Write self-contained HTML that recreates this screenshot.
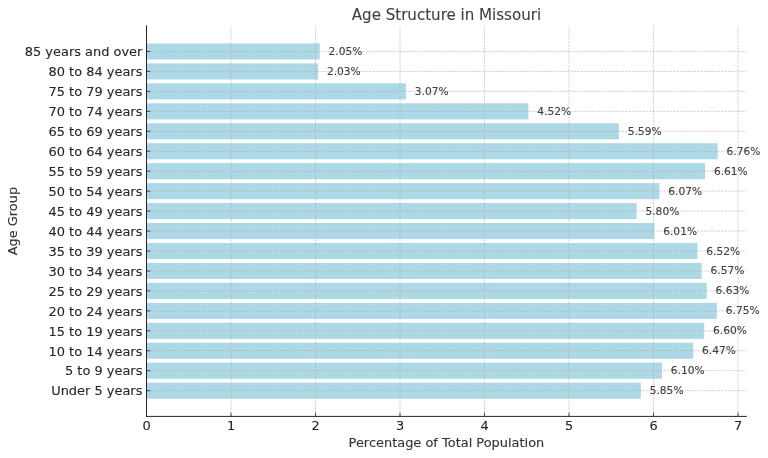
<!DOCTYPE html>
<html lang="en"><head><meta charset="utf-8"><title>Age Structure in Missouri</title>
<style>html,body{margin:0;padding:0;background:#fff}body{width:768px;height:458px;overflow:hidden}svg{display:block}text{stroke-width:0.12px;paint-order:stroke;font-family:"DejaVu Sans","Liberation Sans",sans-serif}</style></head><body>
<svg width="768" height="458" viewBox="0 0 768 458">
<rect width="768" height="458" fill="#fff"/>
<g fill="#add8e6">
<rect x="146.50" y="43.43" width="173.22" height="16.10"/>
<rect x="146.50" y="63.38" width="171.53" height="16.10"/>
<rect x="146.50" y="83.33" width="259.41" height="16.10"/>
<rect x="146.50" y="103.29" width="381.94" height="16.10"/>
<rect x="146.50" y="123.24" width="472.35" height="16.10"/>
<rect x="146.50" y="143.19" width="571.22" height="16.10"/>
<rect x="146.50" y="163.14" width="558.55" height="16.10"/>
<rect x="146.50" y="183.09" width="512.92" height="16.10"/>
<rect x="146.50" y="203.05" width="490.10" height="16.10"/>
<rect x="146.50" y="223.00" width="507.84" height="16.10"/>
<rect x="146.50" y="242.95" width="550.94" height="16.10"/>
<rect x="146.50" y="262.90" width="555.17" height="16.10"/>
<rect x="146.50" y="282.85" width="560.24" height="16.10"/>
<rect x="146.50" y="302.81" width="570.38" height="16.10"/>
<rect x="146.50" y="322.76" width="557.70" height="16.10"/>
<rect x="146.50" y="342.71" width="546.72" height="16.10"/>
<rect x="146.50" y="362.66" width="515.45" height="16.10"/>
<rect x="146.50" y="382.61" width="494.32" height="16.10"/>
</g>
<g stroke="#b0b0b0" stroke-opacity="0.88" stroke-width="0.64" stroke-dasharray="2.39,1.03" fill="none">
<line x1="146.50" y1="416.4" x2="146.50" y2="25.75"/>
<line x1="231.00" y1="416.4" x2="231.00" y2="25.75"/>
<line x1="315.50" y1="416.4" x2="315.50" y2="25.75"/>
<line x1="400.00" y1="416.4" x2="400.00" y2="25.75"/>
<line x1="484.50" y1="416.4" x2="484.50" y2="25.75"/>
<line x1="569.00" y1="416.4" x2="569.00" y2="25.75"/>
<line x1="653.50" y1="416.4" x2="653.50" y2="25.75"/>
<line x1="738.00" y1="416.4" x2="738.00" y2="25.75"/>
<line x1="146.5" y1="51.48" x2="746.4" y2="51.48"/>
<line x1="146.5" y1="71.43" x2="746.4" y2="71.43"/>
<line x1="146.5" y1="91.38" x2="746.4" y2="91.38"/>
<line x1="146.5" y1="111.34" x2="746.4" y2="111.34"/>
<line x1="146.5" y1="131.29" x2="746.4" y2="131.29"/>
<line x1="146.5" y1="151.24" x2="746.4" y2="151.24"/>
<line x1="146.5" y1="171.19" x2="746.4" y2="171.19"/>
<line x1="146.5" y1="191.14" x2="746.4" y2="191.14"/>
<line x1="146.5" y1="211.10" x2="746.4" y2="211.10"/>
<line x1="146.5" y1="231.05" x2="746.4" y2="231.05"/>
<line x1="146.5" y1="251.00" x2="746.4" y2="251.00"/>
<line x1="146.5" y1="270.95" x2="746.4" y2="270.95"/>
<line x1="146.5" y1="290.90" x2="746.4" y2="290.90"/>
<line x1="146.5" y1="310.86" x2="746.4" y2="310.86"/>
<line x1="146.5" y1="330.81" x2="746.4" y2="330.81"/>
<line x1="146.5" y1="350.76" x2="746.4" y2="350.76"/>
<line x1="146.5" y1="370.71" x2="746.4" y2="370.71"/>
<line x1="146.5" y1="390.66" x2="746.4" y2="390.66"/>
</g>
<g stroke="#2e2e2e" stroke-width="0.85">
<line x1="146.50" y1="416.4" x2="146.50" y2="412.7"/>
<line x1="231.00" y1="416.4" x2="231.00" y2="412.7"/>
<line x1="315.50" y1="416.4" x2="315.50" y2="412.7"/>
<line x1="400.00" y1="416.4" x2="400.00" y2="412.7"/>
<line x1="484.50" y1="416.4" x2="484.50" y2="412.7"/>
<line x1="569.00" y1="416.4" x2="569.00" y2="412.7"/>
<line x1="653.50" y1="416.4" x2="653.50" y2="412.7"/>
<line x1="738.00" y1="416.4" x2="738.00" y2="412.7"/>
<line x1="146.5" y1="51.48" x2="150.2" y2="51.48"/>
<line x1="146.5" y1="71.43" x2="150.2" y2="71.43"/>
<line x1="146.5" y1="91.38" x2="150.2" y2="91.38"/>
<line x1="146.5" y1="111.34" x2="150.2" y2="111.34"/>
<line x1="146.5" y1="131.29" x2="150.2" y2="131.29"/>
<line x1="146.5" y1="151.24" x2="150.2" y2="151.24"/>
<line x1="146.5" y1="171.19" x2="150.2" y2="171.19"/>
<line x1="146.5" y1="191.14" x2="150.2" y2="191.14"/>
<line x1="146.5" y1="211.10" x2="150.2" y2="211.10"/>
<line x1="146.5" y1="231.05" x2="150.2" y2="231.05"/>
<line x1="146.5" y1="251.00" x2="150.2" y2="251.00"/>
<line x1="146.5" y1="270.95" x2="150.2" y2="270.95"/>
<line x1="146.5" y1="290.90" x2="150.2" y2="290.90"/>
<line x1="146.5" y1="310.86" x2="150.2" y2="310.86"/>
<line x1="146.5" y1="330.81" x2="150.2" y2="330.81"/>
<line x1="146.5" y1="350.76" x2="150.2" y2="350.76"/>
<line x1="146.5" y1="370.71" x2="150.2" y2="370.71"/>
<line x1="146.5" y1="390.66" x2="150.2" y2="390.66"/>
</g>
<g stroke="#262626" stroke-width="1.0" stroke-linecap="square"><line x1="146.5" y1="25.75" x2="146.5" y2="416.4"/><line x1="146.5" y1="416.4" x2="746.4" y2="416.4"/></g>
<g font-size="12.95" fill="#262626" stroke="#262626" text-anchor="end">
<text x="142.4" y="56.23">85 years and over</text>
<text x="142.4" y="76.18">80 to 84 years</text>
<text x="142.4" y="96.13">75 to 79 years</text>
<text x="142.4" y="116.09">70 to 74 years</text>
<text x="142.4" y="136.04">65 to 69 years</text>
<text x="142.4" y="155.99">60 to 64 years</text>
<text x="142.4" y="175.94">55 to 59 years</text>
<text x="142.4" y="195.89">50 to 54 years</text>
<text x="142.4" y="215.85">45 to 49 years</text>
<text x="142.4" y="235.80">40 to 44 years</text>
<text x="142.4" y="255.75">35 to 39 years</text>
<text x="142.4" y="275.70">30 to 34 years</text>
<text x="142.4" y="295.65">25 to 29 years</text>
<text x="142.4" y="315.61">20 to 24 years</text>
<text x="142.4" y="335.56">15 to 19 years</text>
<text x="142.4" y="355.51">10 to 14 years</text>
<text x="142.4" y="375.46">5 to 9 years</text>
<text x="142.4" y="395.41">Under 5 years</text>
</g>
<g font-size="12.95" fill="#262626" stroke="#262626" text-anchor="middle">
<text x="146.50" y="430.4">0</text>
<text x="231.00" y="430.4">1</text>
<text x="315.50" y="430.4">2</text>
<text x="400.00" y="430.4">3</text>
<text x="484.50" y="430.4">4</text>
<text x="569.00" y="430.4">5</text>
<text x="653.50" y="430.4">6</text>
<text x="738.00" y="430.4">7</text>
</g>
<g font-size="10.67" fill="#404040" stroke="#404040">
<text x="328.57" y="54.98">2.05%</text>
<text x="326.88" y="74.93">2.03%</text>
<text x="414.76" y="94.88">3.07%</text>
<text x="537.29" y="114.84">4.52%</text>
<text x="627.70" y="134.79">5.59%</text>
<text x="726.57" y="154.74">6.76%</text>
<text x="713.89" y="174.69">6.61%</text>
<text x="668.26" y="194.64">6.07%</text>
<text x="645.45" y="214.60">5.80%</text>
<text x="663.19" y="234.55">6.01%</text>
<text x="706.29" y="254.50">6.52%</text>
<text x="710.51" y="274.45">6.57%</text>
<text x="715.58" y="294.40">6.63%</text>
<text x="725.72" y="314.36">6.75%</text>
<text x="713.05" y="334.31">6.60%</text>
<text x="702.06" y="354.26">6.47%</text>
<text x="670.80" y="374.21">6.10%</text>
<text x="649.67" y="394.16">5.85%</text>
</g>
<text x="446.45" y="19.6" font-size="15.07" fill="#404040" stroke="#404040" text-anchor="middle">Age Structure in Missouri</text>
<text x="446.45" y="447.1" font-size="12.95" fill="#333" stroke="#333" text-anchor="middle">Percentage of Total Population</text>
<text transform="translate(16.5,221.07) rotate(-90)" font-size="12.95" fill="#333" stroke="#333" text-anchor="middle">Age Group</text>
</svg></body></html>
